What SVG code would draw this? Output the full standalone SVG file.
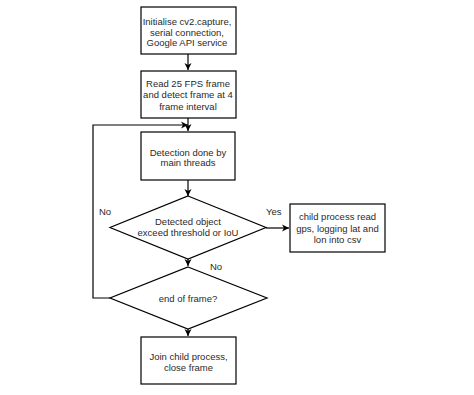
<svg xmlns="http://www.w3.org/2000/svg" width="474" height="395" viewBox="0 0 474 395">
<defs>
<marker id="ah" markerWidth="8" markerHeight="8" refX="7" refY="4" orient="auto" markerUnits="userSpaceOnUse">
<path d="M0,0.5 L7,4 L0,7.5 L2,4 Z" fill="#000"/>
</marker>
<style>
.box{fill:#fff;stroke:#000;stroke-width:1.2}
.t{font-family:"Liberation Sans",Arial,sans-serif;font-size:9.5px;fill:#2a2a2a;text-anchor:middle}
.l{font-family:"Liberation Sans",Arial,sans-serif;font-size:9.5px;fill:#2a2a2a}
.c{fill:none;stroke:#000;stroke-width:1.2;marker-end:url(#ah)}
</style>
</defs>
<rect width="474" height="395" fill="#fff"/>
<g id="connectors">
<path class="c" d="M188,54 L188,70"/>
<path class="c" d="M188,118 L188,131"/>
<path class="c" d="M188,180 L188,196"/>
<path class="c" d="M266,228 L289,228"/>
<path class="c" d="M188,259 L188,266"/>
<path class="c" d="M188,329 L188,336"/>
<path class="c" d="M110,298 L93,298 L93,125 L188,125"/>
<text class="l" x="99" y="215">No</text>
<text class="l" x="266" y="215">Yes</text>
<text class="l" x="210" y="270">No</text>
</g>
<g id="n1">
<rect class="box" x="141" y="7" width="95" height="47"/>
<text class="t" x="187" y="25">Initialise cv2.capture,</text>
<text class="t" x="187" y="35.5">serial connection,</text>
<text class="t" x="187" y="46">Google API service</text>
</g>
<g id="n2">
<rect class="box" x="141" y="71" width="95" height="47"/>
<text class="t" x="188" y="87">Read 25 FPS frame</text>
<text class="t" x="188" y="98">and detect frame at 4</text>
<text class="t" x="188" y="109.5">frame interval</text>
</g>
<g id="n3">
<rect class="box" x="141" y="132" width="94" height="48"/>
<text class="t" x="188" y="155.5">Detection done by</text>
<text class="t" x="188" y="166">main threads</text>
</g>
<g id="n4">
<polygon class="box" points="188,196 266,227.5 188,259 110,227.5"/>
<text class="t" x="188" y="224.5">Detected object</text>
<text class="t" x="188" y="236">exceed threshold or IoU</text>
</g>
<g id="n5">
<rect class="box" x="290" y="204" width="95" height="48"/>
<text class="t" x="337.5" y="220">child process read</text>
<text class="t" x="337.5" y="231.5">gps, logging lat and</text>
<text class="t" x="337.5" y="242.5">lon into csv</text>
</g>
<g id="n6">
<polygon class="box" points="188,267 267,298 188,329 110,298"/>
<text class="t" x="188" y="302">end of frame?</text>
</g>
<g id="n7">
<rect class="box" x="141" y="337" width="95" height="47"/>
<text class="t" x="188.5" y="359.5">Join child process,</text>
<text class="t" x="188.5" y="371">close frame</text>
</g>
</svg>
